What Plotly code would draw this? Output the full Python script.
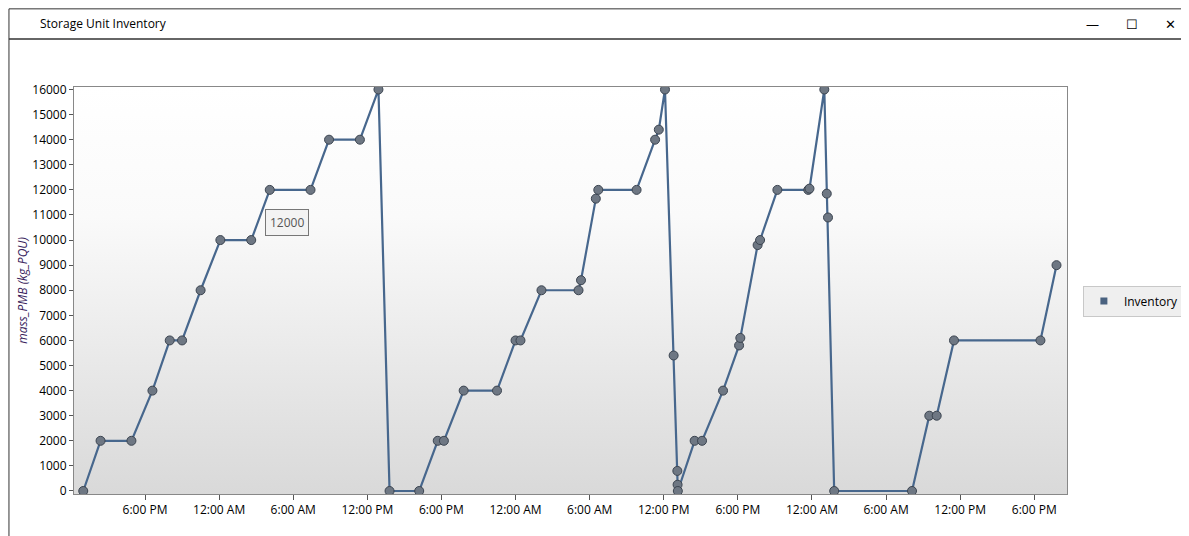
import pandas as pd
import plotly.graph_objs as go

# hours after 2015-03-01 00:00
hours = [13.0, 14.4, 16.9, 18.6, 20.0, 21.0, 22.5, 24.1, 26.6, 28.1, 31.4, 32.9, 35.4, 36.9,
         37.8, 40.2, 41.7, 42.2, 43.8, 46.5, 48.0, 48.4, 50.1, 53.1, 53.3, 54.5, 54.7, 57.8,
         59.3, 59.6, 60.1, 60.8, 61.1, 61.12, 61.14, 62.5, 63.1, 64.8, 66.1, 66.2, 67.6, 67.8,
         69.2, 71.7, 71.8, 73.0, 73.2, 73.3, 73.8, 80.1, 81.5, 82.1, 83.5, 90.5, 91.8]
inventory = [0, 2000, 2000, 4000, 6000, 6000, 8000, 10000, 10000, 12000, 12000, 14000, 14000, 16000,
             0, 0, 2000, 2000, 4000, 4000, 6000, 6000, 8000, 8000, 8400, 11650, 12000, 12000,
             14000, 14400, 16000, 5400, 800, 250, 0, 2000, 2000, 4000, 5800, 6100, 9800, 10000,
             12000, 12000, 12050, 16000, 11850, 10900, 0, 0, 3000, 3000, 6000, 6000, 9000]

base = pd.Timestamp('2015-03-01')
times = [base + pd.Timedelta(hours=h) for h in hours]
x0 = base + pd.Timedelta(hours=12.25)
x1 = base + pd.Timedelta(hours=92.65)

bg = go.Scatter(x=[x0, x1, x1, x0, x0], y=[-120, -120, 16100, 16100, -120], mode='none',
                fill='toself', showlegend=False, hoverinfo='skip',
                fillgradient=dict(type='vertical',
                                  colorscale=[[0, '#d9d9d9'], [0.68, '#fafafa'], [1, '#ffffff']]))
trace = go.Scatter(x=times, y=inventory, mode='lines+markers', name='Inventory', showlegend=False,
                   line=dict(color='#47678d', width=2.2),
                   marker=dict(size=9, color='#6e7783', symbol='circle',
                               line=dict(color='#3b4450', width=1)))
legend_item = go.Scatter(x=[None], y=[None], mode='markers', name='Inventory',
                         marker=dict(size=7, color='#4a6280', symbol='square'))

layout = go.Layout(
    width=1189, height=536, paper_bgcolor='white', plot_bgcolor='white',
    margin=dict(l=66, r=130, t=79, b=50),
    font=dict(family='Open Sans', size=12, color='black'),
    xaxis=dict(type='date', range=[x0, x1], tick0='2015-03-01 18:00', dtick=6 * 3600000,
               tickformat='%-I:%M %p', showgrid=False, ticks='outside', ticklen=5,
               tickcolor='#555', linecolor='#888', mirror=True, showline=True, zeroline=False,
               automargin=False),
    yaxis=dict(range=[-120, 16100], tick0=0, dtick=1000, tickformat='d', gridcolor='#8a8a8a',
               ticks='outside', ticklen=4, tickcolor='#555', linecolor='#888', mirror=True,
               showline=True, zeroline=False, automargin=False,
               title=dict(text='<i>mass_PMB (kg_PQU)</i>', standoff=2,
                          font=dict(color='#3b1f5e', size=12))),
    showlegend=True,
    legend=dict(x=1.016, y=0.474, xanchor='left', yanchor='middle', bgcolor='#efefef',
                bordercolor='#c8c8c8', borderwidth=1, itemwidth=30,
                font=dict(size=12)),
    shapes=[dict(type='rect', xref='paper', yref='paper', x0=-0.0655, x1=1.129, y0=-0.12, y1=1.192,
                 line=dict(color='#333', width=1)),
            dict(type='line', xref='paper', yref='paper', x0=-0.0655, x1=1.129, y0=1.118, y1=1.118,
                 line=dict(color='#333', width=1.5))],
    annotations=[dict(text='Storage Unit Inventory', xref='paper', yref='paper', x=-0.036, y=1.155,
                      xanchor='left', yanchor='middle', showarrow=False, font=dict(size=12)),
                 dict(text='\u2014        \u2610        \u2715', xref='paper', yref='paper', x=1.112,
                      y=1.155, xanchor='right', yanchor='middle', showarrow=False,
                      font=dict(size=13)),
                 dict(text='12000', x=base + pd.Timedelta(hours=29.5), y=10700, showarrow=False,
                      bgcolor='#f3f3f3', bordercolor='#777', borderwidth=1, borderpad=4,
                      font=dict(color='#555', size=12))],
)

fig = go.Figure(data=[bg, trace, legend_item], layout=layout)
fig.write_html('out.html')
